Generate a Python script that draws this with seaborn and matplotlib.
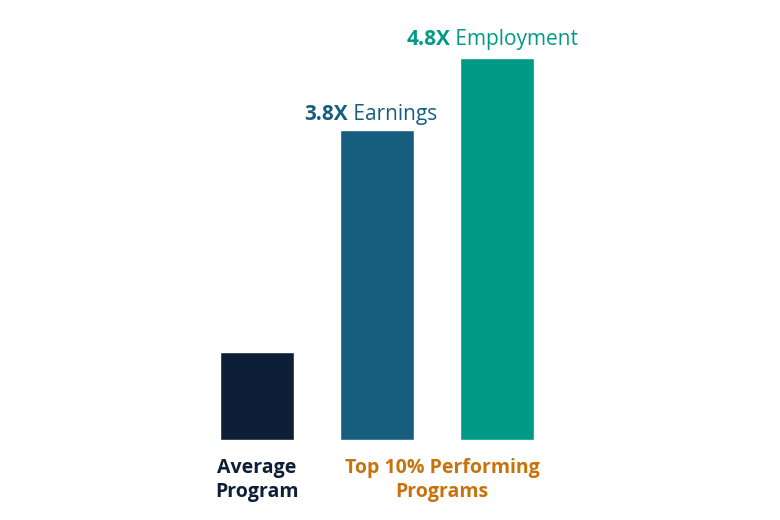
import matplotlib
matplotlib.use("Agg")
import matplotlib.pyplot as plt
import seaborn as sns

categories = ["Average", "Earnings", "Employment"]
values = [1.0, 3.52, 4.34]
colors = ["#0d1f36", "#175e7e", "#009a86"]
multipliers = ["", "3.8X", "4.8X"]
label_words = ["", " Earnings", " Employment"]

sns.set_style("white")
plt.rcParams["font.family"] = ["Open Sans", "DejaVu Sans"]

fig = plt.figure(figsize=(7.8, 5.2), dpi=100)
ax = fig.add_axes([197 / 780, 80 / 520, 360 / 780, 440 / 520])
sns.barplot(x=list(range(3)), y=values, hue=list(range(3)), palette=colors,
            width=0.62, legend=False, ax=ax, saturation=1, native_scale=True)
ax.set_xlim(-0.5, 2.5)
ax.set_ylim(0, 5)
ax.axis("off")

# split positions between bold multiplier and word
splits = [None, 0.76, 1.61]
ys = [None, 3.64, 4.49]
for i in (1, 2):
    ax.text(splits[i], ys[i], multipliers[i], ha="right", va="baseline",
            fontsize=15, fontweight="bold", color=colors[i], clip_on=False)
    ax.text(splits[i], ys[i], label_words[i], ha="left", va="baseline",
            fontsize=15, color=colors[i], clip_on=False)

fig.text(257 / 780, 1 - 480 / 520, "Average\nProgram", ha="center", va="center",
         fontsize=14, fontweight="bold", color="#0d1f36", linespacing=1.2)
fig.text(442 / 780, 1 - 480 / 520, "Top 10% Performing\nPrograms", ha="center", va="center",
         fontsize=14, fontweight="bold", color="#c8720a", linespacing=1.2)

fig.savefig("out.png", dpi=100, facecolor="white")
